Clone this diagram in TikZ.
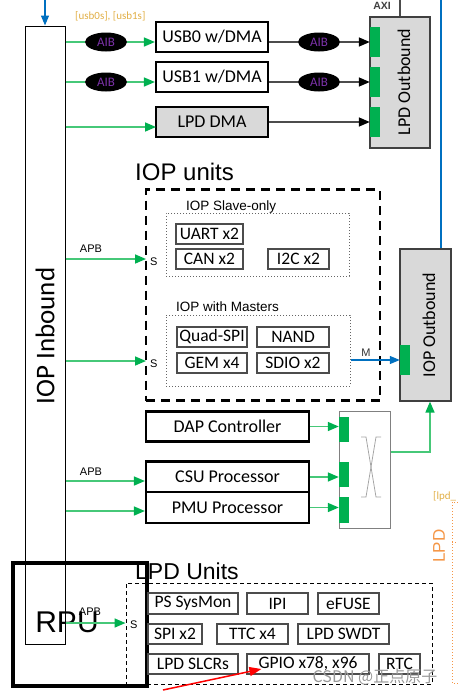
\documentclass[tikz,border=0pt]{standalone}
\usepackage{fontspec}
\setmainfont{Liberation Sans}
\newfontfamily\carl{Carlito}
\newfontfamily\cjk{Noto Sans CJK SC}
\usepackage{tikz}
\usetikzlibrary{arrows.meta,shapes}

\definecolor{portgreen}{RGB}{0,176,80}
\definecolor{linegreen}{RGB}{70,200,120}
\definecolor{busblue}{RGB}{0,112,192}
\definecolor{aibpurple}{RGB}{125,50,170}
\definecolor{tagyellow}{RGB}{225,175,70}
\definecolor{lpdorange}{RGB}{245,150,70}
\definecolor{outgray}{RGB}{217,217,217}

\newcommand{\fs}[1]{\fontsize{#1}{#1}\selectfont}

\begin{document}
\begin{tikzpicture}[x=1pt,y=-1pt]
  \tikzstyle{block}=[draw=black,line width=2.2pt,fill=white,inner sep=0pt,font=\carl\fs{18}]
  \tikzstyle{unit}=[draw=black!70,line width=1.2pt,fill=white,inner sep=0pt,font=\carl\fs{17.5}]
  \tikzstyle{outbox}=[draw=black!75,line width=1.2pt,fill=outgray,inner sep=0pt]
  \tikzstyle{port}=[fill=portgreen,inner sep=0pt,minimum width=10]
  \tikzstyle{aib}=[ellipse,fill=black,text=aibpurple,inner sep=0pt,minimum width=42,minimum height=19,font=\carl\fs{13}]
  \tikzstyle{gline}=[draw=linegreen,line width=1.6pt,-{Triangle[length=11pt,width=9pt,color=portgreen]}]
  \tikzstyle{dline}=[draw=black!70,line width=1.5pt,-{Triangle[length=11pt,width=9pt,color=black]}]
  \tikzstyle{bline}=[draw=busblue,line width=1.2pt,-{Triangle[length=10pt,width=8pt]}]
  \tikzstyle{dashframe}=[draw=black,line width=2.2pt,dash pattern=on 9pt off 6pt,inner sep=0pt]
  \tikzstyle{dotframe}=[draw=black!60,line width=1pt,dotted,inner sep=0pt]
  \tikzstyle{lbl}=[inner sep=0pt,font=\fs{11}]

  \useasboundingbox (0,0) rectangle (458,697);

  % inbound column
  \node[draw=black,line width=1pt,fill=white,minimum width=40,minimum height=618] at (45,335) (inb) {};
  \node[rotate=90,font=\carl\fs{27}] at (45,336) (inbtxt) {IOP Inbound};
  \coordinate (intop) at (45,0);
  \draw[bline] (intop) -- (inb.north);
  \node[lbl,anchor=west,text=tagyellow,font=\carl\fs{11}] at (75,16) (usbtag) {[usb0s], [usb1s]};

  % USB / LPD DMA
  \node[block,minimum width=112,minimum height=30] at (212,37) (usb0) {USB0 w/DMA};
  \node[block,minimum width=112,minimum height=30] at (212,77) (usb1) {USB1 w/DMA};
  \node[block,fill=outgray,minimum width=112,minimum height=30] at (212,122) (lpddma) {LPD DMA};
  \node[aib] at (106,42) (aib0) {AIB};
  \node[aib] at (106,82) (aib1) {AIB};
  \node[aib] at (319,42) (aib2) {AIB};
  \node[aib] at (319,82) (aib3) {AIB};

  % LPD outbound
  \node[outbox,minimum width=60,minimum height=131] at (400,82.5) (lpdo) {};
  \node[rotate=90,font=\carl\fs{18}] at (404,82) (lpdotxt) {LPD Outbound};
  \node[port,minimum height=30] at (375,42) (lpp0) {};
  \node[port,minimum height=30] at (375,82) (lpp1) {};
  \node[port,minimum height=30] at (375,122) (lpp2) {};
  \coordinate (axitop) at (400,0);
  \draw[black!70,line width=1.2pt] (lpdo.north) -- (axitop);
  \node[lbl,font=\bfseries\fs{10.5},text=black!75] at (382,6) (axi) {AXI};
  \coordinate (busin) at (441,0);
  \coordinate (dmain) at (156,127);

  \draw[linegreen,line width=1.6pt] (inb.east |- aib0) -- (aib0);
  \draw[gline] (aib0) -- (usb0.west |- aib0);
  \draw[linegreen,line width=1.6pt] (inb.east |- aib1) -- (aib1);
  \draw[gline] (aib1) -- (usb1.west |- aib1);
  \draw[gline] (inb.east |- dmain) -- (dmain);
  \draw[black!70,line width=1.5pt] (usb0.east |- aib2) -- (aib2);
  \draw[dline] (aib2) -- (lpp0.west);
  \draw[black!70,line width=1.5pt] (usb1.east |- aib3) -- (aib3);
  \draw[dline] (aib3) -- (lpp1.west);
  \draw[dline] (lpddma.east) -- (lpp2.west);

  % IOP units
  \node[anchor=base west,inner sep=0pt,font=\fs{24}] at (135,180) (ioptitle) {IOP units};
  \node[dashframe,minimum width=234,minimum height=211] at (263,295) (iopu) {};
  \node[dotframe,minimum width=183,minimum height=63] at (257.5,244.5) (slv) {};
  \node[anchor=base west,inner sep=0pt,font=\fs{13.5}] at (186,210) (slvtxt) {IOP Slave-only};
  \node[unit,minimum width=67,minimum height=20] at (209.5,234) (uart) {UART x2};
  \node[unit,minimum width=67,minimum height=20] at (209.5,259) (can) {CAN x2};
  \node[unit,minimum width=61,minimum height=20] at (298.5,259) (iic) {I2C x2};
  \node[dotframe,minimum width=184,minimum height=71] at (258,350.5) (mst) {};
  \node[anchor=base west,inner sep=0pt,font=\fs{13.5}] at (176,311) (msttxt) {IOP with Masters};
  \node[unit,minimum width=70,minimum height=20] at (212,337) (qspi) {Quad-SPI};
  \node[unit,minimum width=72,minimum height=20] at (293,337) (nand) {NAND};
  \node[unit,minimum width=70,minimum height=20] at (212,363) (gem) {GEM x4};
  \node[unit,minimum width=72,minimum height=20] at (293,363) (sdio) {SDIO x2};

  \coordinate (s1) at (146,259);
  \coordinate (s2) at (146,361);
  \draw[gline] (inb.east |- s1) -- (s1);
  \draw[gline] (inb.east |- s2) -- (s2);
  \node[lbl] at (91,249) (apb1) {APB};
  \node[lbl,anchor=west] at (150,262) (s1txt) {S};
  \node[lbl,anchor=west] at (150,364) (s2txt) {S};

  % IOP outbound
  \node[outbox,minimum width=51,minimum height=152] at (425.5,325) (iopo) {};
  \node[rotate=90,font=\carl\fs{18}] at (429,325) (iopotxt) {IOP Outbound};
  \node[port,minimum height=30] at (405,360) (iopp) {};
  \draw[busblue,line width=1.2pt] (busin) -- (busin |- iopo.north);
  \draw[bline] (mst.east |- iopp) -- (iopp.west);
  \node[lbl,text=black!80] at (366,353) (mtxt) {M};

  % debug / processors
  \node[block,minimum width=163,minimum height=30] at (227.5,426.5) (dap) {DAP Controller};
  \node[block,minimum width=163,minimum height=31] at (227.5,477) (csu) {CSU Processor};
  \node[block,minimum width=163,minimum height=31] at (227.5,507.5) (pmu) {PMU Processor};
  \node[draw=black!50,line width=1pt,fill=white,minimum width=51,minimum height=117] at (364.5,469.5) (sw) {};
  \node[port,minimum height=25] at (344,429.5) (sp0) {};
  \node[port,minimum height=25] at (344,474.5) (sp1) {};
  \node[port,minimum height=26] at (344,510) (sp2) {};
  \draw[black!35,line width=0.8pt] (361,437) -- (366,437) -- (376,497) -- (381,497);
  \draw[black!35,line width=0.8pt] (381,437) -- (376,437) -- (366,497) -- (361,497);
  \draw[gline] (dap.east) -- (dap.east -| sp0.west);
  \draw[gline] (csu.east) -- (csu.east -| sp1.west);
  \draw[gline] (pmu.east) -- (pmu.east -| sp2.west);
  \draw[gline] (sw.east |- 0,452) -| ([xshift=4.5pt]iopo.south);
  \draw[gline] (inb.east |- 0,481) -- (csu.west |- 0,481);
  \draw[gline] (inb.east |- 0,511) -- (pmu.west |- 0,511);
  \node[lbl] at (91,472) (apb2) {APB};

  % LPD units
  \node[draw=black,line width=1pt,dash pattern=on 4pt off 3pt,minimum width=306,minimum height=101] at (279,633.5) (lpdu) {};
  \node[anchor=base west,inner sep=0pt,font=\fs{23}] at (135,579) (lpdtitle) {LPD Units};
  \node[lbl] at (90,612) (apb3) {APB};
  \node[draw=black,line width=4pt,minimum width=134,minimum height=123] at (80,624.5) (rpu) {};
  \node[inner sep=0pt,font=\fs{30}] at (67,622) (rputxt) {RPU};
  \draw[gline] (inb.east |- 0,623) -- (lpdu.west |- 0,623);
  \node[lbl,anchor=west] at (130,625) (s3txt) {S};
  \node[unit,minimum width=90,minimum height=21] at (193,603.5) (sysmon) {PS SysMon};
  \node[unit,minimum width=61,minimum height=21] at (277.5,603.5) (ipi) {IPI};
  \node[unit,minimum width=61,minimum height=21] at (348.5,603.5) (efuse) {eFUSE};
  \node[unit,minimum width=54,minimum height=20] at (175,634) (spi) {SPI x2};
  \node[unit,minimum width=71,minimum height=20] at (252.5,634) (ttc) {TTC x4};
  \node[unit,minimum width=91,minimum height=20] at (343.5,634) (swdt) {LPD SWDT};
  \node[unit,minimum width=90,minimum height=20] at (193,664) (slcr) {LPD SLCRs};
  \node[unit,minimum width=122,minimum height=20] at (308,664) (gpio) {GPIO x78, x96};
  \node[unit,minimum width=41,minimum height=20] at (399.5,664) (rtc) {RTC};
  \coordinate (redtail) at (163,690);
  \draw[red,line width=1.5pt,-{Triangle[length=12pt,width=9pt]}] (redtail) -- ([xshift=15pt,yshift=-5pt]gpio.west);
  \node[inner sep=0pt,text=black!40,font=\cjk\fs{16}] at (375,677) (mark) {CSDN @正点原子};

  % LPD power domain tag
  \node[lbl,anchor=west,text=tagyellow,font=\carl\fs{11}] at (433,496) (lpdtag) {[lpd\_};
  \node[rotate=90,inner sep=0pt,text=lpdorange,font=\fs{17}] at (439,546) (lpdtxt) {LPD};
  \draw[lpdorange,line width=1pt,dotted] (458,502) -- (452,502) -- (452,683) -- (458,683);
  \draw[lpdorange,line width=1pt,dotted] (452,542) -- (458,542);
\end{tikzpicture}
\end{document}
